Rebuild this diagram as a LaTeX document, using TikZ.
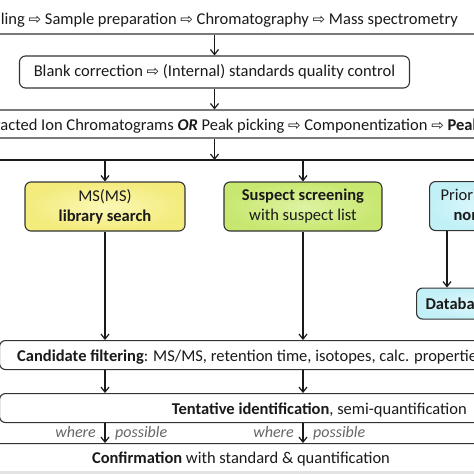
\documentclass[tikz,border=0pt]{standalone}
\usepackage{fontspec}
\setmainfont{Carlito}
\newfontfamily\symf{DejaVu Sans}
\newcommand{\thinarrow}{{\symf\fontsize{15}{15}\selectfont ⇨}}
\usetikzlibrary{arrows.meta}
\definecolor{ink}{HTML}{1A1A1A}
\definecolor{edge}{HTML}{333333}
\definecolor{ylwin}{HTML}{FBF8B6}
\definecolor{ylwout}{HTML}{F3EB7C}
\definecolor{grnin}{HTML}{DDF3A2}
\definecolor{grnout}{HTML}{C8E770}
\definecolor{cyanin}{HTML}{E3FAFD}
\definecolor{cyanout}{HTML}{C2F0F7}
\definecolor{lblgray}{HTML}{666666}
\begin{document}
\begin{tikzpicture}[x=1pt,y=-1pt,
  font=\fontsize{16.5}{20}\selectfont, text=ink,
  box/.style={draw=edge, line width=1.1pt, rounded corners=6pt, inner sep=0pt},
  ybox/.style={box, inner color=ylwin, outer color=ylwout},
  gbox/.style={box, inner color=grnin, outer color=grnout},
  cbox/.style={box, inner color=cyanin, outer color=cyanout},
  txt/.style={inner sep=0pt},
  arr/.style={draw=ink, line width=1.2pt, -{Straight Barb[length=5pt,width=8pt,line width=1.2pt]}},
  plain/.style={draw=ink, line width=1.2pt},
  lbl/.style={inner sep=0pt, text=lblgray, font=\fontsize{16}{20}\selectfont\itshape}]
\useasboundingbox (0,0) rectangle (474,474);
\clip (0,0) rectangle (474,474);
\fill[white] (0,0) rectangle (474,474);

% top box (cut)
\node[box, minimum width=600, minimum height=60] (topbox) at (214.5,4) {};
\node[txt, anchor=base east] (toptxt) at (458,24) {Sampling \thinarrow{} Sample preparation \thinarrow{} Chromatography \thinarrow{} Mass spectrometry};

% blank correction
\node[box, minimum width=390, minimum height=32] (blank) at (214.5,72) {Blank correction \thinarrow{} (Internal) standards quality control};
\draw[arr] (topbox.south) -- (blank.north);

% extracted ion chromatograms
\node[box, minimum width=600, minimum height=28] (eic) at (240,124) {};
\node[txt, anchor=base west] (eictxt) at (-26,130) {Extracted Ion Chromatograms \textbf{\textit{OR}} Peak picking \thinarrow{} Componentization \thinarrow{} \textbf{Peak list}};
\draw[arr] (blank.south) -- (blank.south |- eic.north);

% distribution bar
\coordinate (barL) at (-5,160);
\coordinate (barR) at (480,160);
\coordinate (bj) at (214.5,160);
\draw[plain] (barL) -- (barR);
\draw[arr] (eic.south -| bj) -- (bj);

% three branches
\node[ybox, minimum width=160, minimum height=49, align=center] (ylw) at (105,206.5) {MS(MS)\\\textbf{library search}};
\node[gbox, minimum width=158, minimum height=49, align=center] (grn) at (303,206.5) {\textbf{Suspect screening}\\with suspect list};
\node[cbox, anchor=north west, minimum height=49, inner xsep=11pt, text width=110pt, align=left] (prio) at (429,181) {Prioritization\\\hspace*{13pt}\textbf{non-target}};
\node[cbox, anchor=north west, minimum height=31, inner xsep=9pt, text width=130pt, align=left] (db) at (416,287.5) {\textbf{Database search}};

\draw[arr] (ylw.north |- bj) -- (ylw.north);
\draw[arr] (grn.north |- bj) -- (grn.north);
\draw[arr] ([xshift=18pt]prio.south west) -- ([xshift=18pt]prio.south west |- db.north);

% candidate filtering
\node[box, anchor=north west, minimum width=700, minimum height=29] (cand) at (-1,340) {};
\node[txt, anchor=base west] (candtxt) at (17,361) {\textbf{Candidate filtering}: MS/MS, retention time, isotopes, calc. properties};
\draw[arr] (ylw.south) -- (ylw.south |- cand.north);
\draw[arr] (grn.south) -- (grn.south |- cand.north);

% tentative identification
\node[box, anchor=north west, minimum width=700, minimum height=29] (tent) at (-1,393) {};
\node[txt, anchor=base east] (tenttxt) at (467,414) {\textbf{Tentative identification}, semi-quantification};
\draw[arr] (cand.south -| ylw.south) -- (tent.north -| ylw.south);
\draw[arr] (cand.south -| grn.south) -- (tent.north -| grn.south);

% confirmation
\node[box, anchor=north west, minimum width=700, minimum height=40] (conf) at (-60,443) {};
\node[txt, anchor=base] (conftxt) at (241,463) {\textbf{Confirmation} with standard \& quantification};
\draw[arr] (tent.south -| ylw.south) -- (conf.north -| ylw.south);
\draw[arr] (tent.south -| grn.south) -- (conf.north -| grn.south);
\node[lbl, anchor=base east] (w1) at (96,437) {where};
\node[lbl, anchor=base west] (p1) at (115,437) {possible};
\node[lbl, anchor=base east] (w2) at (294,437) {where};
\node[lbl, anchor=base west] (p2) at (313,437) {possible};

\fill[gray!22] (0,471) rectangle (474,474);
\end{tikzpicture}
\end{document}
